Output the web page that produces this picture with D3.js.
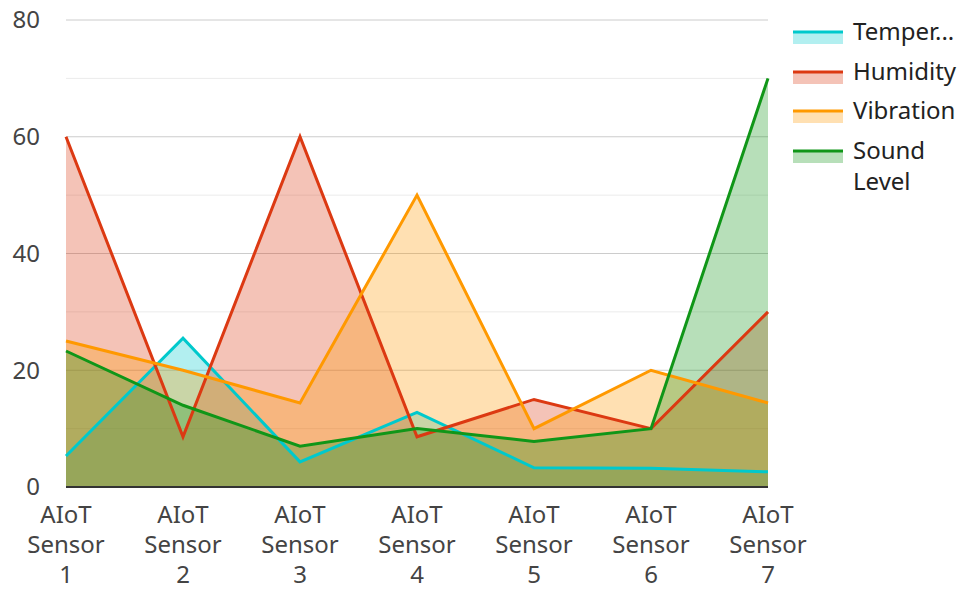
<!DOCTYPE html>
<html>
<head>
<meta charset="utf-8">
<script src="https://cdn.jsdelivr.net/npm/d3@7"></script>
<style>
  body { margin: 0; background: #fff; }
  text { font-family: "Noto Sans", sans-serif; }
</style>
</head>
<body>
<svg id="chart" width="963" height="590"></svg>
<script>
// DATA
var categories = ["AIoT Sensor 1", "AIoT Sensor 2", "AIoT Sensor 3", "AIoT Sensor 4", "AIoT Sensor 5", "AIoT Sensor 6", "AIoT Sensor 7"];
var temperature = [5.3, 25.5, 4.3, 12.8, 3.3, 3.2, 2.6];
var humidity = [60, 8.6, 60, 8.6, 15, 10, 30];
var vibration = [25, 20, 14.4, 50, 10, 20, 14.4];
var soundLevel = [23.3, 14, 7, 10, 7.8, 10, 70];
var seriesNames = ["Temper...", "Humidity", "Vibration", ["Sound", "Level"]];
var seriesColors = ["#00c9cc", "#dc3912", "#ff9900", "#109618"];
var yTicks = [0, 20, 40, 60, 80];
var yMinor = [10, 30, 50, 70];

var allSeries = [temperature, humidity, vibration, soundLevel];

var svg = d3.select("#chart");

var x = d3.scalePoint().domain(categories).range([66, 768]);
var y = d3.scaleLinear().domain([0, 80]).range([487, 20]);

// GRID
svg.selectAll(".minor").data(yMinor).enter().append("line")
    .attr("x1", 66).attr("x2", 768)
    .attr("y1", function(d){ return y(d); })
    .attr("y2", function(d){ return y(d); })
    .attr("stroke", "#ebebeb").attr("stroke-width", 1);

svg.selectAll(".major").data(yTicks.slice(1)).enter().append("line")
    .attr("x1", 66).attr("x2", 768)
    .attr("y1", function(d){ return y(d); })
    .attr("y2", function(d){ return y(d); })
    .attr("stroke", "#cccccc").attr("stroke-width", 1);

// Y LABELS
svg.selectAll(".ylab").data(yTicks).enter().append("text")
    .attr("x", 40)
    .attr("y", function(d){ return y(d); })
    .attr("dy", "0.35em")
    .attr("text-anchor", "end")
    .attr("font-size", 24)
    .attr("fill", "#444")
    .text(function(d){ return d; });

// AREAS
var area = d3.area()
    .x(function(d, i){ return x(categories[i]); })
    .y0(y(0))
    .y1(function(d){ return y(d); });

var line = d3.line()
    .x(function(d, i){ return x(categories[i]); })
    .y(function(d){ return y(d); });

allSeries.forEach(function(s, k){
    svg.append("path")
        .attr("d", area(s))
        .attr("fill", seriesColors[k])
        .attr("fill-opacity", 0.3);
});

allSeries.forEach(function(s, k){
    svg.append("path")
        .attr("d", line(s))
        .attr("fill", "none")
        .attr("stroke", seriesColors[k])
        .attr("stroke-width", 3);
});

// BASELINE
svg.append("line")
    .attr("x1", 66).attr("x2", 768)
    .attr("y1", y(0)).attr("y2", y(0))
    .attr("stroke", "#333").attr("stroke-width", 2);

// X LABELS
categories.forEach(function(c){
    var parts = ["AIoT", "Sensor", c.split(" ")[2]];
    var t = svg.append("text")
        .attr("text-anchor", "middle")
        .attr("font-size", 24)
        .attr("fill", "#444");
    parts.forEach(function(p, i){
        t.append("tspan")
            .attr("x", x(c))
            .attr("y", 523 + i * 30)
            .text(p);
    });
});

// LEGEND
var legendY = [32, 72, 111, 151];
seriesNames.forEach(function(n, k){
    var ly = legendY[k];
    svg.append("rect")
        .attr("x", 793).attr("y", ly - 1)
        .attr("width", 50).attr("height", 13)
        .attr("fill", seriesColors[k]).attr("fill-opacity", 0.3);
    svg.append("rect")
        .attr("x", 793).attr("y", ly - 1.5)
        .attr("width", 50).attr("height", 3)
        .attr("fill", seriesColors[k]);
    var lines = Array.isArray(n) ? n : [n];
    lines.forEach(function(l, i){
        svg.append("text")
            .attr("x", 853)
            .attr("y", ly + i * 31)
            .attr("dy", "0.35em")
            .attr("font-size", 24)
            .attr("fill", "#222")
            .text(l);
    });
});
</script>
</body>
</html>
